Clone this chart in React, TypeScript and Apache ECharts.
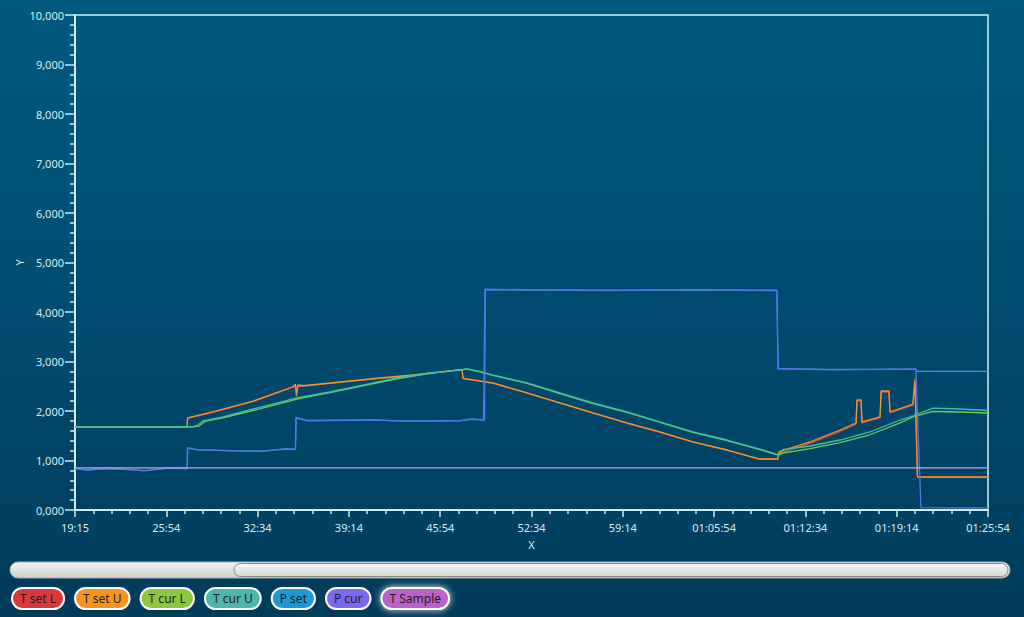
import React, { useEffect, useRef } from "react";
import * as echarts from "echarts";

// Tick labels
const xTickLabels = ["19:15", "25:54", "32:34", "39:14", "45:54", "52:34", "59:14", "01:05:54", "01:12:34", "01:19:14", "01:25:54"];
const yTickLabels = ["0,000", "1,000", "2,000", "3,000", "4,000", "5,000", "6,000", "7,000", "8,000", "9,000", "10,000"];
const X_STEP = 399.9; // seconds between x ticks
const X_MAX = 3999; // seconds from 19:15 to 01:25:54

// Series (x = seconds since 19:15, y = value)
const legendNames = ["T set L", "T set U", "T cur L", "T cur U", "P set", "P cur", "T Sample"];
const legendColors = ["#d9383c", "#f7941e", "#8dc63f", "#4db6ac", "#1b9ad6", "#7b68ee", "#bb62c8"];
const lineColors = ["#e0463a", "#f0972c", "#6fcb55", "#3cc0a6", "#3f92de", "#5872ea", "#b9a6e8"];

const tSetL: number[][] = [
  [0, 1680], [491, 1680], [493, 1850], [604, 1970], [780, 2190], [955, 2480], [1000, 2505], [1161, 2580],
  [1336, 2660], [1480, 2720], [1600, 2785], [1695, 2835], [1700, 2655], [1831, 2560], [1980, 2360],
  [2124, 2158], [2269, 1955], [2418, 1752], [2562, 1570], [2707, 1370], [2856, 1208], [3000, 1025],
  [3079, 1025], [3083, 1140], [3219, 1345], [3351, 1590], [3421, 1735], [3425, 2200], [3443, 2200],
  [3447, 1760], [3526, 1860], [3531, 2380], [3565, 2380], [3570, 1960], [3670, 2120], [3679, 2660],
  [3690, 660], [3999, 660],
];
const tSetU: number[][] = [
  [0, 1680], [491, 1680], [493, 1860], [604, 1980], [780, 2200], [955, 2490], [965, 2540], [970, 2300],
  [976, 2530], [1000, 2510], [1161, 2586], [1336, 2667], [1480, 2727], [1600, 2790], [1695, 2838],
  [1700, 2660], [1831, 2566], [1980, 2364], [2124, 2162], [2269, 1960], [2418, 1758], [2562, 1576],
  [2707, 1374], [2856, 1212], [3000, 1030], [3079, 1030], [3083, 1172], [3219, 1374], [3351, 1616],
  [3421, 1758], [3425, 2222], [3443, 2222], [3447, 1778], [3526, 1879], [3531, 2404], [3565, 2404],
  [3570, 1980], [3670, 2141], [3679, 2626], [3690, 667], [3999, 667],
];
const tCurL: number[][] = [
  [0, 1680], [517, 1680], [545, 1700], [570, 1790], [648, 1860], [797, 2030], [972, 2240], [1117, 2370],
  [1261, 2510], [1410, 2650], [1555, 2760], [1686, 2830], [1717, 2845], [1774, 2790], [1831, 2720],
  [1980, 2560], [2124, 2350], [2269, 2150], [2418, 1970], [2562, 1770], [2707, 1570], [2856, 1400],
  [3000, 1220], [3079, 1110], [3100, 1150], [3219, 1240], [3351, 1360], [3482, 1520], [3614, 1760],
  [3670, 1880], [3758, 1990], [3876, 1980], [3999, 1960],
];
const tCurU: number[][] = [
  [0, 1680], [517, 1680], [540, 1720], [560, 1800], [648, 1879], [797, 2060], [972, 2263], [1117, 2384],
  [1261, 2525], [1410, 2667], [1555, 2768], [1686, 2828], [1717, 2850], [1774, 2800], [1831, 2727],
  [1980, 2566], [2124, 2364], [2269, 2162], [2418, 1980], [2562, 1778], [2707, 1576], [2856, 1414],
  [3000, 1232], [3079, 1120], [3100, 1220], [3219, 1293], [3351, 1414], [3482, 1576], [3614, 1818],
  [3670, 1899], [3758, 2060], [3876, 2040], [3999, 2010],
];
const pSet: number[][] = [
  [0, 840], [60, 800], [110, 830], [250, 820], [300, 790], [400, 840], [491, 840], [493, 1250],
  [530, 1220], [680, 1200], [810, 1190], [920, 1230], [966, 1230], [968, 1860], [1010, 1810],
  [1300, 1820], [1424, 1800], [1686, 1800], [1730, 1840], [1790, 1820], [1796, 4450], [2300, 4440],
  [2700, 4440], [3075, 4440], [3079, 2850], [3300, 2840], [3683, 2840], [3688, 2800], [3999, 2800],
];
const pCur: number[][] = [
  [0, 830], [50, 810], [120, 850], [240, 810], [310, 800], [420, 850], [491, 830], [494, 1260],
  [540, 1215], [700, 1195], [820, 1185], [925, 1240], [965, 1220], [969, 1870], [1020, 1800],
  [1320, 1815], [1440, 1795], [1690, 1805], [1740, 1830], [1794, 1815], [1797, 4460], [2320, 4430],
  [2720, 4450], [3074, 4430], [3080, 2860], [3320, 2830], [3683, 2850], [3705, 50], [3999, 40],
];
const tSample: number[][] = [
  [0, 850], [3999, 850],
];

const seriesData = [tSetL, tSetU, tCurL, tCurU, pSet, pCur, tSample];

const axisColor = "#cdeef1";
const textColor = "#d6eef2";
const font = "'Noto Sans', 'Open Sans', sans-serif";

export default function App() {
  const ref = useRef<HTMLDivElement>(null);
  useEffect(() => {
    if (!ref.current) return;
    const chart = echarts.init(ref.current, undefined, { renderer: "svg" });
    chart.setOption({
      animation: false,
      backgroundColor: "transparent",
      grid: {
        left: 75, right: 36, top: 15, bottom: 107,
        show: true, borderColor: axisColor, borderWidth: 1.5, backgroundColor: "transparent",
      },
      xAxis: {
        type: "value", min: 0, max: X_MAX, interval: X_STEP,
        name: "X", nameLocation: "middle", nameGap: 29, nameMoveOverlap: false,
        nameTextStyle: { color: textColor, fontSize: 11, fontFamily: font },
        axisLine: { show: true, lineStyle: { color: axisColor, width: 2 } },
        axisTick: { show: true, length: 7, lineStyle: { color: axisColor, width: 1.5 } },
        minorTick: { show: true, splitNumber: 5, length: 4, lineStyle: { color: axisColor, width: 1.5 } },
        splitLine: { show: false },
        minorSplitLine: { show: false },
        axisLabel: {
          color: textColor, fontSize: 11, fontFamily: font, margin: 12,
          formatter: (v: number) => xTickLabels[Math.round(v / X_STEP)] ?? "",
        },
      },
      yAxis: {
        type: "value", min: 0, max: 10000, interval: 1000,
        name: "Y", nameLocation: "middle", nameGap: 50, nameMoveOverlap: false,
        nameTextStyle: { color: textColor, fontSize: 11, fontFamily: font },
        axisLine: { show: true, lineStyle: { color: axisColor, width: 2 } },
        axisTick: { show: true, length: 10, lineStyle: { color: axisColor, width: 1.5 } },
        minorTick: { show: true, splitNumber: 5, length: 5, lineStyle: { color: axisColor, width: 1.5 } },
        splitLine: { show: false },
        minorSplitLine: { show: false },
        axisLabel: {
          color: textColor, fontSize: 11, fontFamily: font, margin: 11,
          formatter: (v: number) => yTickLabels[Math.round(v / 1000)] ?? "",
        },
      },
      legend: {
        left: 3, top: 582, itemGap: 6, icon: "none", itemWidth: 0, itemHeight: 0,
        selectedMode: false,
        data: legendNames.map((n, i) => ({
          name: n,
          textStyle: {
            color: "#1e1e1e", fontSize: 12, fontFamily: font,
            backgroundColor: legendColors[i], borderColor: "#ffffff", borderWidth: 2,
            borderRadius: 11, padding: [4, 7, 3, 7],
            ...(i === 6 ? { shadowColor: "rgba(255,255,255,0.85)", shadowBlur: 7 } : {}),
          },
        })),
      },
      graphic: [
        {
          type: "rect", z: 10,
          shape: { x: 10, y: 562, width: 1000, height: 16, r: 8 },
          style: {
            fill: new echarts.graphic.LinearGradient(0, 0, 0, 1, [
              { offset: 0, color: "#f2f2f2" }, { offset: 1, color: "#cfcfcf" },
            ]),
            stroke: "#a8b0b4", lineWidth: 1,
          },
        },
        {
          type: "rect", z: 11,
          shape: { x: 234, y: 563.5, width: 774, height: 13, r: 6.5 },
          style: {
            fill: new echarts.graphic.LinearGradient(0, 0, 0, 1, [
              { offset: 0, color: "#f8f8f8" }, { offset: 1, color: "#d6d6d6" },
            ]),
            stroke: "#8c8c8c", lineWidth: 1,
          },
        },
      ],
      series: legendNames.map((n, i) => ({
        name: n,
        type: "line",
        data: seriesData[i],
        showSymbol: false,
        symbol: "none",
        color: legendColors[i],
        lineStyle: { color: lineColors[i], width: 1.3 },
        z: 2 + i,
      })),
    });
    return () => chart.dispose();
  }, []);
  return (
    <div
      ref={ref}
      style={{
        position: "fixed", left: 0, top: 0, width: 1024, height: 617,
        background: "linear-gradient(180deg, #00597f 0%, #004c70 50%, #003b5a 100%)",
      }}
    />
  );
}
